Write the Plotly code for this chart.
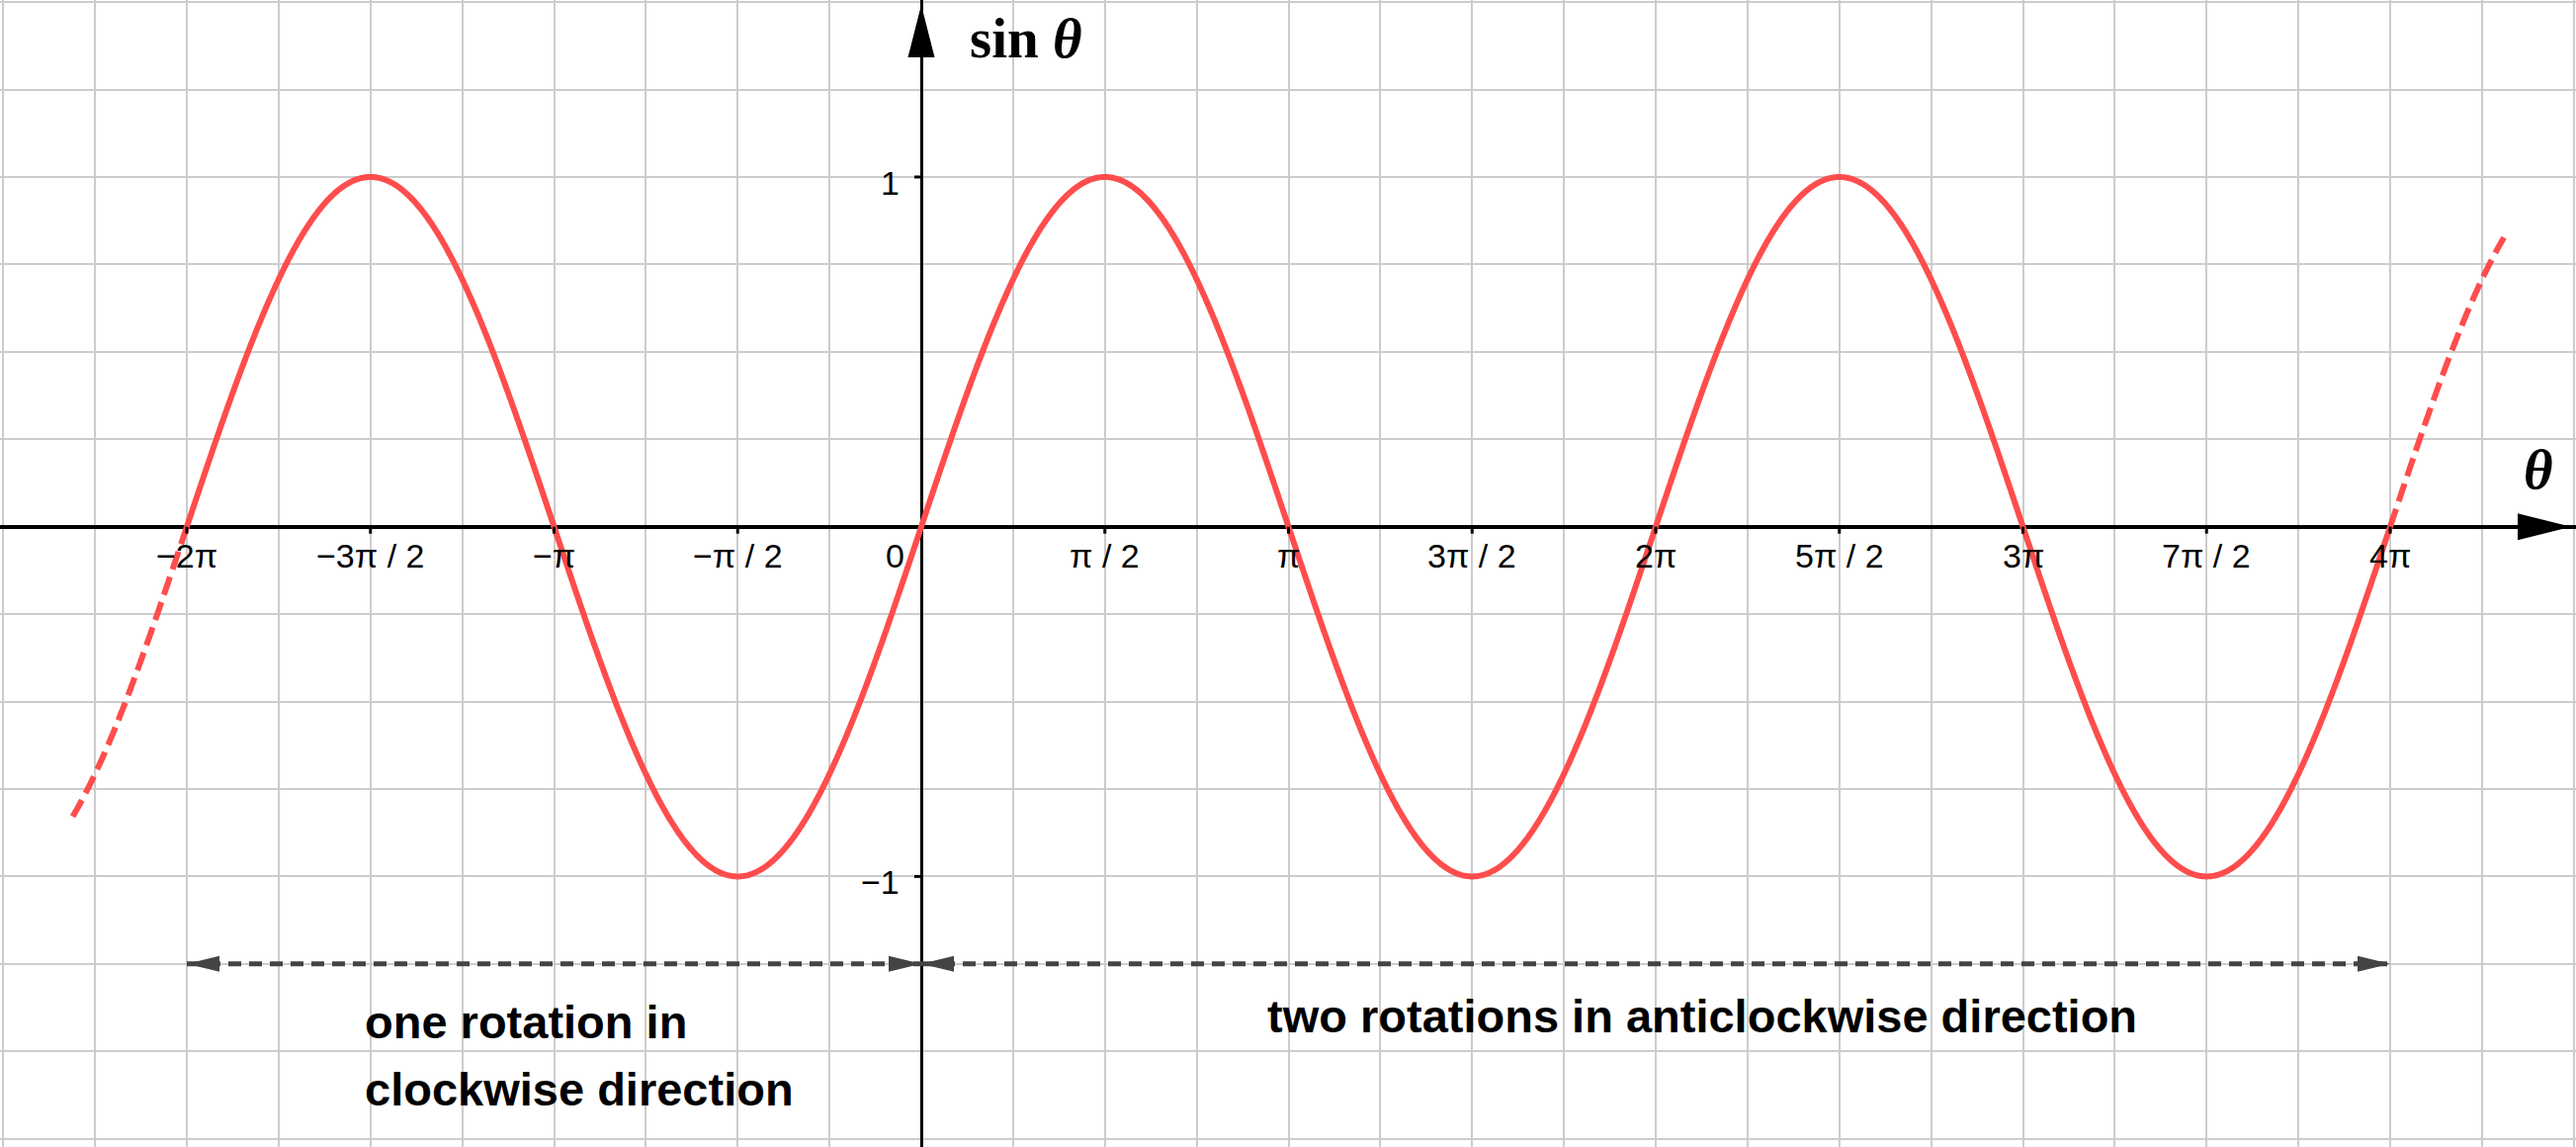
import numpy as np
import plotly.graph_objects as go

PI = np.pi

# ---------------- data ----------------
x_tick_halfpi = [-4, -3, -2, -1, 0, 1, 2, 3, 4, 5, 6, 7, 8]   # multiples of pi/2
x_tick_labels = ["−2π", "−3π / 2", "−π", "−π / 2", "0", "π / 2", "π",
                 "3π / 2", "2π", "5π / 2", "3π", "7π / 2", "4π"]
y_tick_vals = [1, -1]
y_tick_labels = ["1", "−1"]

solid_start = -2 * PI
solid_end = 4 * PI
dash_left_start = -7.26
dash_right_end = 13.54

arrow_level = -1.25
cw_span = [-2 * PI, 0.0]
acw_span = [0.0, 4 * PI]
cw_text = ["one rotation in", "clockwise direction"]
acw_text = "two rotations in anticlockwise direction"

# ---------------- geometry of the view ----------------
W, H = 2606, 1160
px_per_pi = 371.5
origin_px = 932.0
px_per_unit = 353.7
origin_py = 532.7
x_range = [-origin_px / px_per_pi * PI, (W - origin_px) / px_per_pi * PI]
y_range = [-(H - origin_py) / px_per_unit, origin_py / px_per_unit]

grid_x = [k * PI / 4 for k in range(-10, 19)]
grid_y = [k * 0.25 for k in range(-7, 7)]

RED = "rgb(255,77,77)"
GRAY = "#444444"
TICK_FONT = dict(family="Liberation Sans, Arial", size=34, color="black")
BOLD_FONT = dict(family="Liberation Sans, Arial", size=47, color="black")
SERIF_FONT = dict(family="Liberation Serif, Times New Roman, serif", size=57, color="black")

fig = go.Figure()

# sine curve: solid main part, dashed continuations
t_solid = np.linspace(solid_start, solid_end, 2000)
t_left = np.linspace(dash_left_start, solid_start, 150)
t_right = np.linspace(solid_end, dash_right_end, 150)
for t, dash in [(t_left, "19px,8px"), (t_solid, "solid"), (t_right, "19px,8px")]:
    fig.add_trace(go.Scatter(x=t, y=np.sin(t), mode="lines",
                             line=dict(color=RED, width=6, dash=dash, simplify=False),
                             hoverinfo="skip", showlegend=False))

# dashed rotation arrows (lines)
for span in (cw_span, acw_span):
    fig.add_trace(go.Scatter(x=span, y=[arrow_level, arrow_level], mode="lines",
                             line=dict(color=GRAY, width=5, dash="13px,8px"),
                             hoverinfo="skip", showlegend=False))

shapes = []


def tri(xa, ya, path, color):
    return dict(type="path", xref="x", yref="y", xsizemode="pixel", ysizemode="pixel",
                xanchor=xa, yanchor=ya, path=path, fillcolor=color,
                line=dict(width=0), layer="above")


LEFT_HEAD = "M 0 0 L 33 8 L 33 -8 Z"
RIGHT_HEAD = "M 0 0 L -33 8 L -33 -8 Z"
for span in (cw_span, acw_span):
    shapes.append(tri(span[0], arrow_level, LEFT_HEAD, GRAY))
    shapes.append(tri(span[1], arrow_level, RIGHT_HEAD, GRAY))

# axis arrowheads
shapes.append(tri(x_range[1], 0, "M -5 0 L -59 13.5 L -59 -13.5 Z", "black"))
shapes.append(tri(0, y_range[1], "M 0 -5 L 13.5 -58 L -13.5 -58 Z", "black"))

# tick marks
for k in x_tick_halfpi:
    if k == 0:
        continue
    shapes.append(dict(type="line", xref="x", yref="y", ysizemode="pixel", yanchor=0,
                       x0=k * PI / 2, x1=k * PI / 2, y0=0, y1=-7,
                       line=dict(color="black", width=3), layer="above"))
for v in y_tick_vals:
    shapes.append(dict(type="line", xref="x", yref="y", xsizemode="pixel", xanchor=0,
                       x0=0, x1=-7, y0=v, y1=v,
                       line=dict(color="black", width=3), layer="above"))

annotations = []
for k, lab in zip(x_tick_halfpi, x_tick_labels):
    annotations.append(dict(x=k * PI / 2, y=0, xref="x", yref="y", text=lab,
                            showarrow=False, xanchor="center", yanchor="middle",
                            yshift=-29, xshift=(-27 if k == 0 else 0), font=TICK_FONT))
for v, lab in zip(y_tick_vals, y_tick_labels):
    annotations.append(dict(x=0, y=v, xref="x", yref="y", text=lab, showarrow=False,
                            xanchor="right", yanchor="middle", xshift=-20, yshift=-6,
                            font=TICK_FONT))

# axis titles
annotations.append(dict(x=0, y=y_range[1], xref="x", yref="y",
                        text="<b>sin</b> <b><i>θ</i></b>", showarrow=False,
                        xanchor="center", yanchor="middle", xshift=106, yshift=-38,
                        font=SERIF_FONT))
annotations.append(dict(x=x_range[1], y=0, xref="x", yref="y",
                        text="<b><i>θ</i></b>", showarrow=False,
                        xanchor="center", yanchor="middle", xshift=-38, yshift=58,
                        font=SERIF_FONT))

# explanatory texts
annotations.append(dict(x=-1.5 * PI, y=arrow_level, xref="x", yref="y", text="<b>%s</b>" % cw_text[0],
                        showarrow=False, xanchor="left", yanchor="middle",
                        xshift=-8, yshift=-59, font=BOLD_FONT))
annotations.append(dict(x=-1.5 * PI, y=arrow_level, xref="x", yref="y", text="<b>%s</b>" % cw_text[1],
                        showarrow=False, xanchor="left", yanchor="middle",
                        xshift=-8, yshift=-127, font=BOLD_FONT))
annotations.append(dict(x=2 * PI, y=arrow_level, xref="x", yref="y", text="<b>%s</b>" % acw_text,
                        showarrow=False, xanchor="center", yanchor="middle",
                        xshift=47, yshift=-53, font=BOLD_FONT))

fig.update_layout(
    width=W, height=H,
    margin=dict(l=0, r=0, t=0, b=0),
    paper_bgcolor="white", plot_bgcolor="white",
    showlegend=False,
    shapes=shapes, annotations=annotations,
    xaxis=dict(range=x_range, tickvals=grid_x, showticklabels=False, ticks="",
               showgrid=True, gridcolor="#cccccc", gridwidth=2,
               zeroline=True, zerolinecolor="black", zerolinewidth=3,
               showline=False, fixedrange=True),
    yaxis=dict(range=y_range, tickvals=grid_y, showticklabels=False, ticks="",
               showgrid=True, gridcolor="#cccccc", gridwidth=2,
               zeroline=True, zerolinecolor="black", zerolinewidth=4,
               showline=False, fixedrange=True),
)

fig.write_html("out.html", config={"displayModeBar": False},
               post_script="document.body.style.margin='0px';document.body.style.overflow='hidden';")
